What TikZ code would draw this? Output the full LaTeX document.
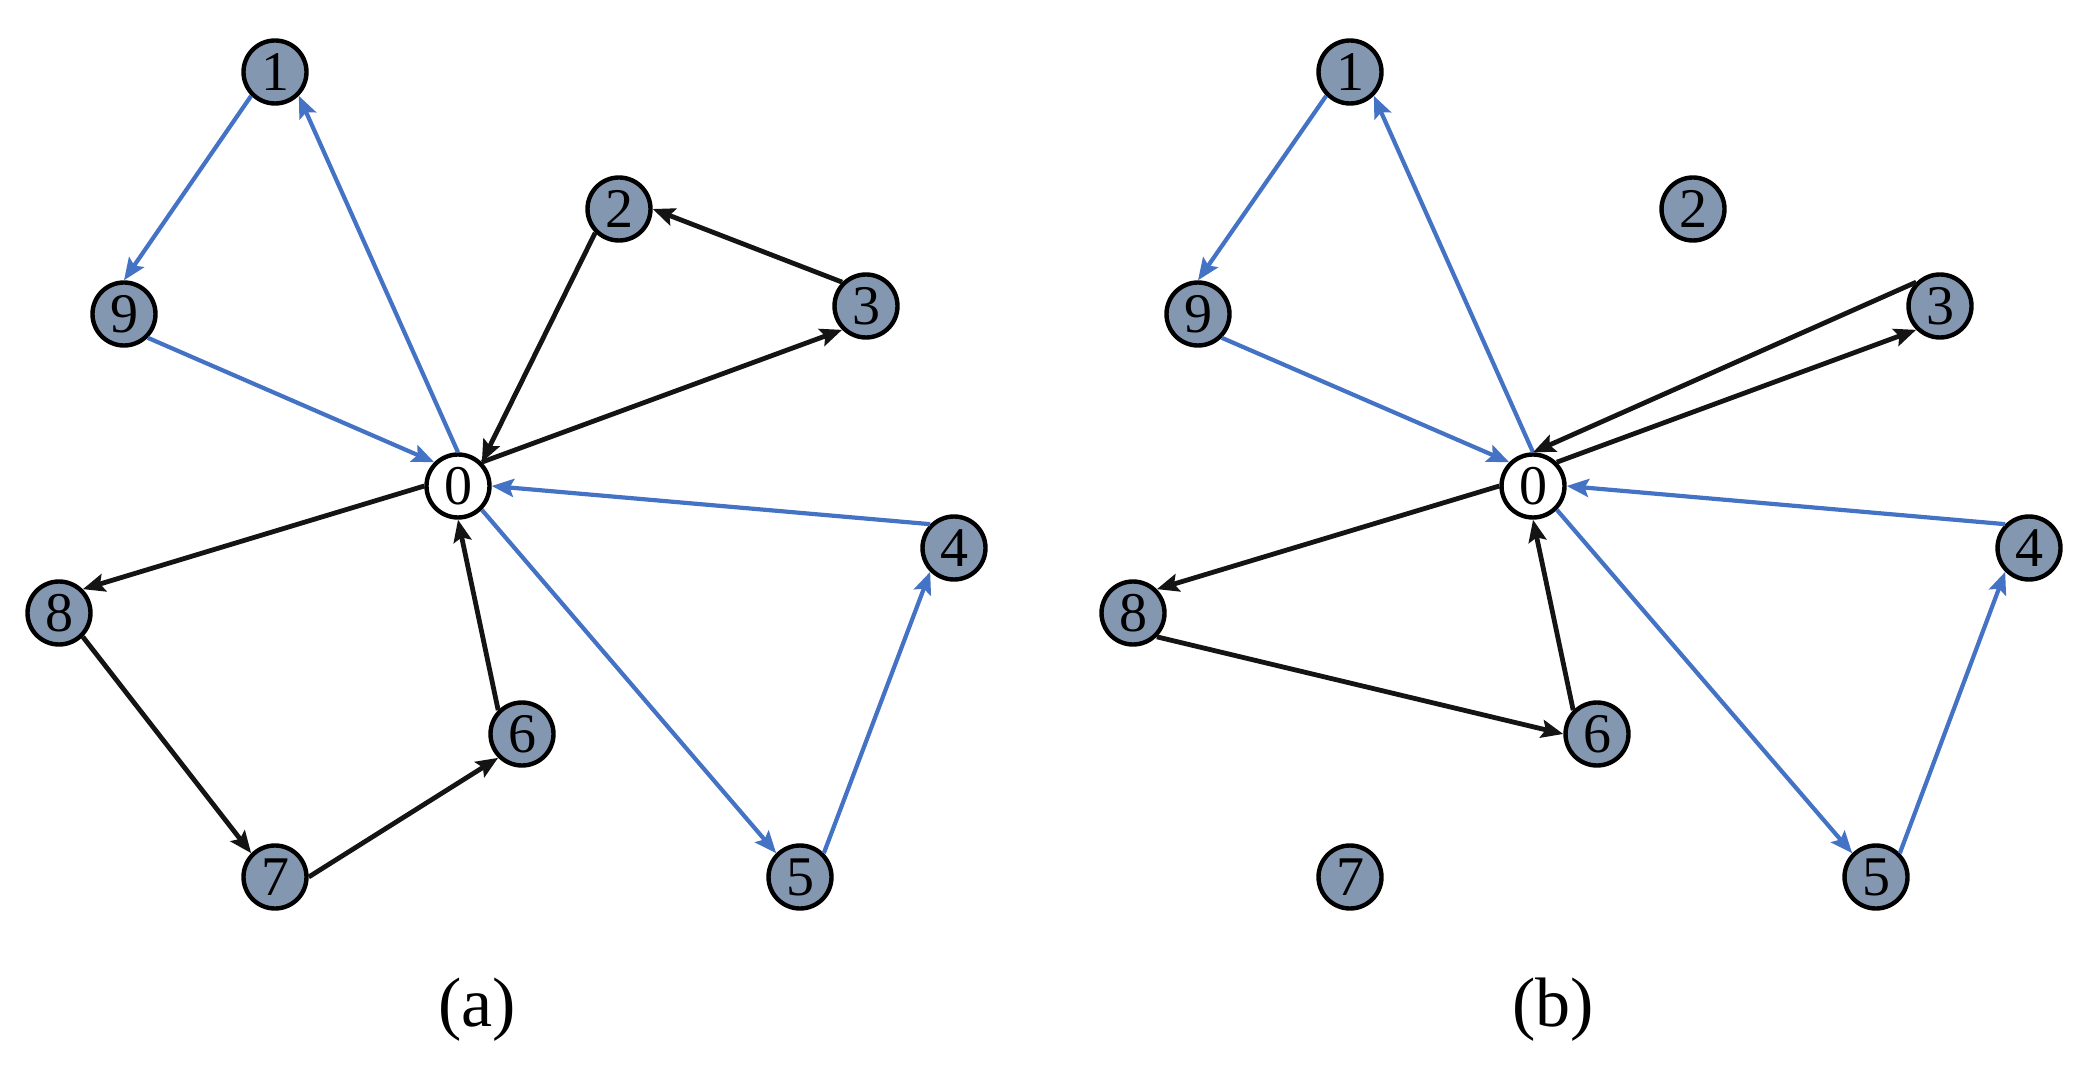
\documentclass[tikz,border=0pt]{standalone}
\usepackage{fontspec}
\setmainfont{Liberation Serif}
\usetikzlibrary{arrows.meta}
\definecolor{nodefill}{HTML}{8497B0}
\definecolor{edgeblue}{HTML}{4472C4}
\tikzset{
  vtx/.style={circle,draw=black,line width=2.2pt,fill=nodefill,minimum size=31.5pt,inner sep=0pt,font=\fontsize{28}{28}\selectfont},
  depot/.style={vtx,fill=white},
  blk/.style={draw=black!92,line width=2.4pt,-{Stealth[length=11pt,width=9pt,inset=2pt]}},
  blu/.style={draw=edgeblue,line width=2.1pt,-{Stealth[length=11pt,width=9pt,inset=2pt]}},
  captext/.style={font=\fontsize{35}{35}\selectfont}
}
\begin{document}
\begin{tikzpicture}[x=0.5pt,y=-0.5pt]
\useasboundingbox (0,0) rectangle (2086,1074);
% ---------- panel (a)
\node[depot] (a0) at (458,486) {0};
\node[vtx] (a1) at (275,72) {1};
\node[vtx] (a2) at (619,209) {2};
\node[vtx] (a3) at (866,306) {3};
\node[vtx] (a4) at (954,548) {4};
\node[vtx] (a5) at (800,877) {5};
\node[vtx] (a6) at (522,734) {6};
\node[vtx] (a7) at (275,877) {7};
\node[vtx] (a8) at (59,613) {8};
\node[vtx] (a9) at (124,314) {9};
\node[captext] (capa) at (477,1010) {(a)};
\draw[blu] (a0.90) -- (a1.-45);
\draw[blu] (a1.225) -- (a9.90);
\draw[blu] (a9.-45) -- (a0.135);
\draw[blu] (a4.135) -- (a0.0);
\draw[blu] (a0.-45) -- (a5.135);
\draw[blu] (a5.45) -- (a4.225);
\draw[blk] (a2.225) -- (a0.45);
\draw[blk] (a0.45) -- (a3.225);
\draw[blk] (a3.135) -- (a2.0);
\draw[blk] (a0.180) -- (a8.45);
\draw[blk] (a8.-45) -- (a7.135);
\draw[blk] (a7.0) -- (a6.225);
\draw[blk] (a6.135) -- (a0.270);
% ---------- panel (b)
\node[depot] (b0) at (1533,486) {0};
\node[vtx] (b1) at (1350,72) {1};
\node[vtx] (b2) at (1693,209) {2};
\node[vtx] (b3) at (1940,306) {3};
\node[vtx] (b4) at (2029,548) {4};
\node[vtx] (b5) at (1876,877) {5};
\node[vtx] (b6) at (1597,734) {6};
\node[vtx] (b7) at (1350,877) {7};
\node[vtx] (b8) at (1133,613) {8};
\node[vtx] (b9) at (1198,314) {9};
\node[captext] (capb) at (1553,1010) {(b)};
\draw[blu] (b0.90) -- (b1.-45);
\draw[blu] (b1.225) -- (b9.90);
\draw[blu] (b9.-45) -- (b0.135);
\draw[blu] (b4.135) -- (b0.0);
\draw[blu] (b0.-45) -- (b5.135);
\draw[blu] (b5.45) -- (b4.225);
\draw[blk] (b3.135) -- (b0.90);
\draw[blk] (b0.45) -- (b3.225);
\draw[blk] (b0.180) -- (b8.45);
\draw[blk] (b8.-45) -- (b6.180);
\draw[blk] (b6.135) -- (b0.270);
\end{tikzpicture}
\end{document}
